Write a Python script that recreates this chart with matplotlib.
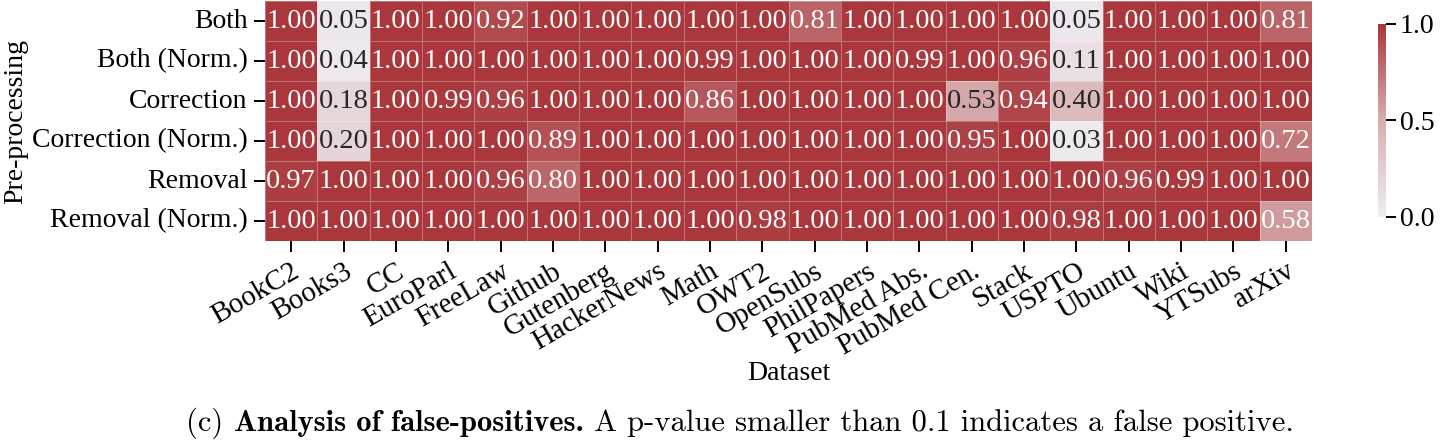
import numpy as np
import matplotlib.pyplot as plt
from matplotlib.colors import LinearSegmentedColormap
import seaborn as sns

datasets = ["BookC2", "Books3", "CC", "EuroParl", "FreeLaw", "Github", "Gutenberg",
            "HackerNews", "Math", "OWT2", "OpenSubs", "PhilPapers", "PubMed Abs.",
            "PubMed Cen.", "Stack", "USPTO", "Ubuntu", "Wiki", "YTSubs", "arXiv"]
preprocessing = ["Both", "Both (Norm.)", "Correction", "Correction (Norm.)",
                 "Removal", "Removal (Norm.)"]

both = [1.00, 0.05, 1.00, 1.00, 0.92, 1.00, 1.00, 1.00, 1.00, 1.00,
        0.81, 1.00, 1.00, 1.00, 1.00, 0.05, 1.00, 1.00, 1.00, 0.81]
both_norm = [1.00, 0.04, 1.00, 1.00, 1.00, 1.00, 1.00, 1.00, 0.99, 1.00,
             1.00, 1.00, 0.99, 1.00, 0.96, 0.11, 1.00, 1.00, 1.00, 1.00]
correction = [1.00, 0.18, 1.00, 0.99, 0.96, 1.00, 1.00, 1.00, 0.86, 1.00,
              1.00, 1.00, 1.00, 0.53, 0.94, 0.40, 1.00, 1.00, 1.00, 1.00]
correction_norm = [1.00, 0.20, 1.00, 1.00, 1.00, 0.89, 1.00, 1.00, 1.00, 1.00,
                   1.00, 1.00, 1.00, 0.95, 1.00, 0.03, 1.00, 1.00, 1.00, 0.72]
removal = [0.97, 1.00, 1.00, 1.00, 0.96, 0.80, 1.00, 1.00, 1.00, 1.00,
           1.00, 1.00, 1.00, 1.00, 1.00, 1.00, 0.96, 0.99, 1.00, 1.00]
removal_norm = [1.00, 1.00, 1.00, 1.00, 1.00, 1.00, 1.00, 1.00, 1.00, 0.98,
                1.00, 1.00, 1.00, 1.00, 1.00, 0.98, 1.00, 1.00, 1.00, 0.58]

pvals = np.array([both, both_norm, correction, correction_norm, removal, removal_norm])

plt.rcParams['font.family'] = ['Liberation Serif', 'DejaVu Serif']
fs = 20

cmap = LinearSegmentedColormap.from_list("pv", ["#eeedf2", "#d7aeb0", "#a9373b"], N=256)

fig = plt.figure(figsize=(14.42, 4.46), dpi=100)
ax = fig.add_axes([265 / 1442, 1 - 241 / 446, 1047 / 1442, 240 / 446])
cax = fig.add_axes([1378 / 1442, 1 - 217 / 446, 8 / 1442, 193 / 446])

sns.heatmap(pvals, ax=ax, cbar_ax=cax, cmap=cmap, vmin=0, vmax=1,
            annot=True, fmt=".2f", annot_kws={"size": 20.5},
            linewidths=0.6, linecolor=(1, 1, 1, 0.3),
            xticklabels=datasets, yticklabels=preprocessing)

ax.tick_params(axis='both', length=8, width=1.4, pad=4.5)
ax.tick_params(axis='y', labelsize=fs)
ax.tick_params(axis='x', labelsize=20.8)
plt.setp(ax.get_xticklabels(), rotation=30, ha='right', rotation_mode='anchor')
plt.setp(ax.get_yticklabels(), rotation=0)
ax.set_xlabel("Dataset", fontsize=fs)
ax.set_ylabel("Pre-processing", fontsize=fs)
ax.xaxis.set_label_coords(0.5, -0.5)
ax.yaxis.set_label_coords(-0.226, 0.5)

cax.set_yticks([0, 0.5, 1])
cax.set_yticklabels(["0.0", "0.5", "1.0"])
cax.tick_params(length=7, width=1.4, labelsize=fs, pad=3)

# caption with a bold part, laid out piece by piece and centred
renderer = fig.canvas.get_renderer()
cap_fs = 22
pieces = [("(c) ", "cmr10"), ("Analysis of false-positives.", "cmb10"),
          (" A p-value smaller than 0.1 indicates a false positive.", "cmr10")]
texts = []
widths = []
for txt, fam in pieces:
    t = fig.text(0, 1 - 431 / 446, txt, fontsize=cap_fs, family=fam,
                 ha='left', va='baseline')
    texts.append(t)
    widths.append(t.get_window_extent(renderer).width)
x = 740 - sum(widths) / 2
for t, w in zip(texts, widths):
    t.set_x(x / 1442)
    x += w

fig.savefig("out.png", dpi=100)
